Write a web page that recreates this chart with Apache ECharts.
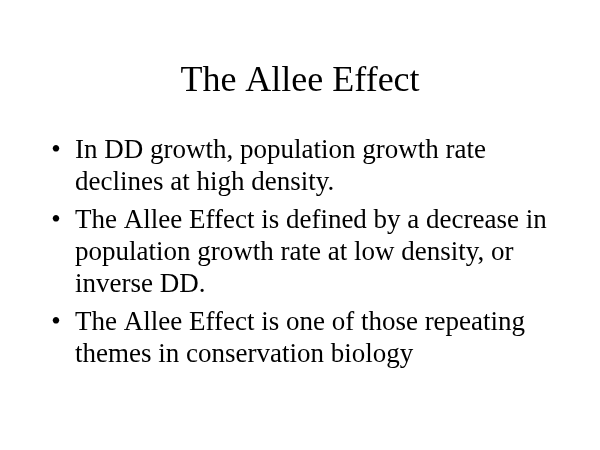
<!DOCTYPE html>
<html>
<head>
<meta charset="utf-8">
<script src="https://cdn.jsdelivr.net/npm/echarts@6/dist/echarts.min.js"></script>
<style>
html,body{margin:0;padding:0;background:#fff;}
#main{width:600px;height:450px;}
</style>
</head>
<body>
<div id="main"></div>
<script>
// ---- content ----
var titleText = 'The Allee Effect';
var bullet1 = ['In DD growth, population growth rate', 'declines at high density.'];
var bullet2 = ['The Allee Effect is defined by a decrease in', 'population growth rate at low density, or', 'inverse DD.'];
var bullet3 = ['The Allee Effect is one of those repeating', 'themes in conservation biology'];
var bullets = [bullet1, bullet2, bullet3];

// ---- layout ----
var FONT = '"Liberation Serif", "Times New Roman", serif';
var titleSize = 36, bodySize = 27;
var titleBaseline = 92;
var firstBaseline = 159, lineGap = 32, paraGap = 38;
var textX = 75, bulletX = 56;
var midOffset = 0.30; // baseline -> middle offset (fraction of font size)

var elements = [];
elements.push({
  type: 'text',
  style: {
    text: titleText, x: 300, y: titleBaseline - midOffset * titleSize,
    font: titleSize + 'px ' + FONT, fill: '#000',
    align: 'center', verticalAlign: 'middle'
  }
});
var y = firstBaseline;
bullets.forEach(function (lines, bi) {
  if (bi > 0) y += paraGap - lineGap;
  elements.push({
    type: 'text',
    style: {
      text: '\u2022', x: bulletX, y: y - midOffset * bodySize,
      font: bodySize + 'px ' + FONT, fill: '#000',
      align: 'center', verticalAlign: 'middle'
    }
  });
  lines.forEach(function (ln) {
    elements.push({
      type: 'text',
      style: {
        text: ln, x: textX, y: y - midOffset * bodySize,
        font: bodySize + 'px ' + FONT, fill: '#000',
        align: 'left', verticalAlign: 'middle'
      }
    });
    y += lineGap;
  });
});

var chart = echarts.init(document.getElementById('main'));
chart.setOption({
  backgroundColor: '#fff',
  animation: false,
  graphic: { elements: elements }
});
</script>
</body>
</html>
